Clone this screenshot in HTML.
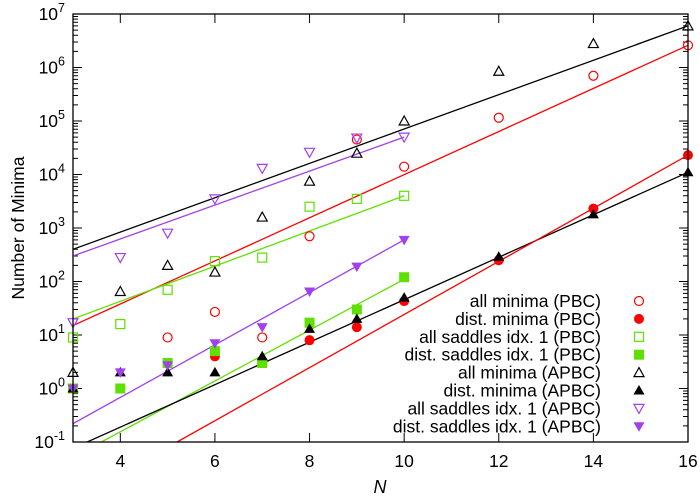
<!DOCTYPE html>
<html><head><meta charset="utf-8"><style>
body{margin:0;background:#fff}
svg{display:block;font-family:"Liberation Sans",sans-serif}
</style></head><body>
<svg id="s" width="700" height="498" xmlns="http://www.w3.org/2000/svg"></svg>
<script>
const L=73,R=688,T=14,B=442;
const X=n=>L+(n-3)*(R-L)/13;
const Y=v=>B-(Math.log10(v)+1)*(B-T)/8;
let h='';
const RED='#ff0000',GRN='#5ee000',BLK='#000',PUR='#a040ee';
h+='<defs><clipPath id="c"><rect x="'+L+'" y="'+T+'" width="'+(R-L)+'" height="'+(B-T)+'"/></clipPath></defs>';
let tk='';
for(let d=-1;d<=7;d++){
 const y=Y(Math.pow(10,d));
 tk+=`M${L} ${y}h9M${R} ${y}h-9`;
 if(d<7)for(let m=2;m<10;m++){const yy=Y(m*Math.pow(10,d));tk+=`M${L} ${yy}h5M${R} ${yy}h-5`;}
 h+=`<text x="${L-8}" y="${y+6}" font-size="17.5" text-anchor="end">10<tspan font-size="12.5" dy="-8">${d}</tspan></text>`;
}
for(let n=4;n<=16;n+=2){const x=X(n);tk+=`M${x} ${B}v-9M${x} ${T}v9`;h+=`<text x="${x}" y="${B+25}" font-size="17.5" text-anchor="middle">${n}</text>`;}
h+=`<path d="${tk}" stroke="#000" stroke-width="1"/>`;
h+=`<text x="380" y="493" font-size="18" font-style="italic" text-anchor="middle">N</text>`;
h+=`<text transform="translate(24,228) rotate(-90)" font-size="17.5" text-anchor="middle">Number of Minima</text>`;
const lines=[[BLK,3,400,16,6e6],[PUR,3,300,10,50000],[RED,3,15,16,2.6e6],[GRN,3,20,10,4000],[PUR,3,0.22,10,600],[GRN,3.6,0.1,10,110],[BLK,3.3,0.1,16,11000],[RED,5.2,0.1,16,23000]];
let lg='<g clip-path="url(#c)">';
for(const [c,n1,v1,n2,v2] of lines)lg+=`<line x1="${X(n1)}" y1="${Y(v1)}" x2="${X(n2)}" y2="${Y(v2)}" stroke="${c}" stroke-width="1.3"/>`;
h+=lg+'</g>';
function sym(t,c,x,y){
 if(t=='oc')return `<circle cx="${x}" cy="${y}" r="4.5" fill="none" stroke="${c}" stroke-width="1.2"/>`;
 if(t=='fc')return `<circle cx="${x}" cy="${y}" r="5" fill="${c}"/>`;
 if(t=='os')return `<rect x="${x-4.5}" y="${y-4.5}" width="9" height="9" fill="none" stroke="${c}" stroke-width="1.2"/>`;
 if(t=='fs')return `<rect x="${x-5}" y="${y-5}" width="10" height="10" fill="${c}"/>`;
 if(t=='ot')return `<path d="M${x} ${y-5}L${x+5} ${y+4}H${x-5}Z" fill="none" stroke="${c}" stroke-width="1.2"/>`;
 if(t=='ft')return `<path d="M${x} ${y-5.5}L${x+5.5} ${y+4}H${x-5.5}Z" fill="${c}"/>`;
 if(t=='oi')return `<path d="M${x} ${y+5}L${x+5} ${y-4}H${x-5}Z" fill="none" stroke="${c}" stroke-width="1.2"/>`;
 if(t=='fi')return `<path d="M${x} ${y+5.5}L${x+5.5} ${y-4}H${x-5.5}Z" fill="${c}"/>`;
}
const N=[3,4,5,6,7,8,9,10,12,14,16];
const S=[
 ['all minima (PBC)','oc',RED,[null,null,9,27,9,700,45000,14000,115000,700000,2.6e6]],
 ['dist. minima (PBC)','fc',RED,[1,1,3,4,3,8,14,43,250,2300,23000]],
 ['all saddles idx. 1 (PBC)','os',GRN,[9,16,70,240,280,2500,3500,4000]],
 ['dist. saddles idx. 1 (PBC)','fs',GRN,[1,1,3,5,3,17,30,120]],
 ['all minima (APBC)','ot',BLK,[2,65,200,150,1600,7500,25000,100000,850000,2.8e6,6e6]],
 ['dist. minima (APBC)','ft',BLK,[1,2,2,2,4,13,20,50,290,1800,11000]],
 ['all saddles idx. 1 (APBC)','oi',PUR,[17,280,800,3500,13000,26000,48000,50000]],
 ['dist. saddles idx. 1 (APBC)','fi',PUR,[1,2,2.7,7,14,65,190,600]],
];
S.forEach((s,i)=>{
 s[3].forEach((v,j)=>{if(v)h+=sym(s[1],s[2],X(N[j]),Y(v));});
 const y=301+i*17.9;
 h+=`<text x="601" y="${y+6}" font-size="17.5" text-anchor="end">${s[0]}</text>`;
 h+=sym(s[1],s[2],639,y);
});
h+=`<rect x="${L}" y="${T}" width="${R-L}" height="${B-T}" fill="none" stroke="#000" stroke-width="1.3"/>`;
document.getElementById('s').innerHTML=h;
</script>
</body></html>
